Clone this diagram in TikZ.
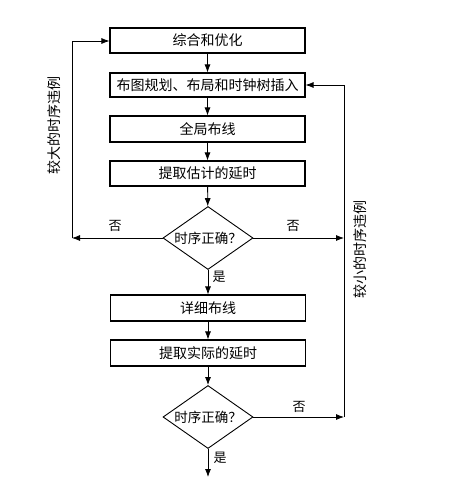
\documentclass[tikz,border=0pt]{standalone}
\usepackage{fontspec}
\setmainfont{Noto Sans CJK SC}
\usetikzlibrary{arrows.meta,shapes.geometric}
\begin{document}
\begin{tikzpicture}[x=1pt,y=1pt,
  every node/.style={font=\fontsize{14}{16}\selectfont},
  stepbox/.style={draw,line width=1.1pt,minimum width=195pt,minimum height=25pt,inner sep=0pt},
  decide/.style={draw,diamond,line width=0.9pt,minimum width=90pt,minimum height=63pt,inner sep=0pt},
  flow/.style={line width=0.8pt,-{Latex[length=8pt,width=6pt]}},
  lbl/.style={inner sep=1pt,font=\fontsize{13}{15}\selectfont}]
\useasboundingbox (0,0) rectangle (450,-492);
\node[stepbox] (b1) at (207.5,-40.5) {综合和优化};
\node[stepbox,minimum height=24pt] (b2) at (207.5,-85) {布图规划、布局和时钟树插入};
\node[stepbox,minimum height=26pt] (b3) at (207.5,-129) {全局布线};
\node[stepbox] (b4) at (207.5,-173.5) {提取估计的延时};
\node[decide] (d1) at (208,-238) {\makebox[0pt]{\fontsize{13.5}{15}\selectfont 时序正确？}};
\node[stepbox,minimum height=26pt] (b5) at (208,-308) {详细布线};
\node[stepbox,minimum height=26pt] (b6) at (208,-353) {提取实际的延时};
\node[decide] (d2) at (208,-417) {\makebox[0pt]{\fontsize{13.5}{15}\selectfont 时序正确？}};
\coordinate (e) at (208,-477);
\coordinate (l1) at (72,-238);
\coordinate (l2) at (72,-41);
\coordinate (r1) at (344,-238);
\coordinate (r2) at (344,-417);
\coordinate (r3) at (344,-85);
\draw[flow] (b1) -- (b2);
\draw[flow] (b2) -- (b3);
\draw[flow] (b3) -- (b4);
\draw[flow] (b4) -- (d1);
\draw[flow] (d1) -- (b5);
\draw[flow] (b5) -- (b6);
\draw[flow] (b6) -- (d2);
\draw[flow] (d2) -- (e);
\draw[flow] (d1.west) -- (l1);
\draw[flow] (l1) -- (l2) -- (b1.west |- l2);
\draw[flow] (d1.east) -- (r1);
\draw[flow] (d2.east) -- (r2);
\draw[flow] (r2) -- (r3) -- (b2.east |- r3);
\node[lbl] (n1) at (115,-226) {否};
\node[lbl] (n2) at (293,-226) {否};
\node[lbl] (y1) at (219,-277) {是};
\node[lbl] (n3) at (299,-407) {否};
\node[lbl] (y2) at (220,-458) {是};
\node[lbl,rotate=90,font=\fontsize{14}{16}\selectfont] (tl) at (54,-125) {较大的时序违例};
\node[lbl,rotate=90,font=\fontsize{14}{16}\selectfont] (tr) at (360,-249) {较小的时序违例};
\end{tikzpicture}
\end{document}
